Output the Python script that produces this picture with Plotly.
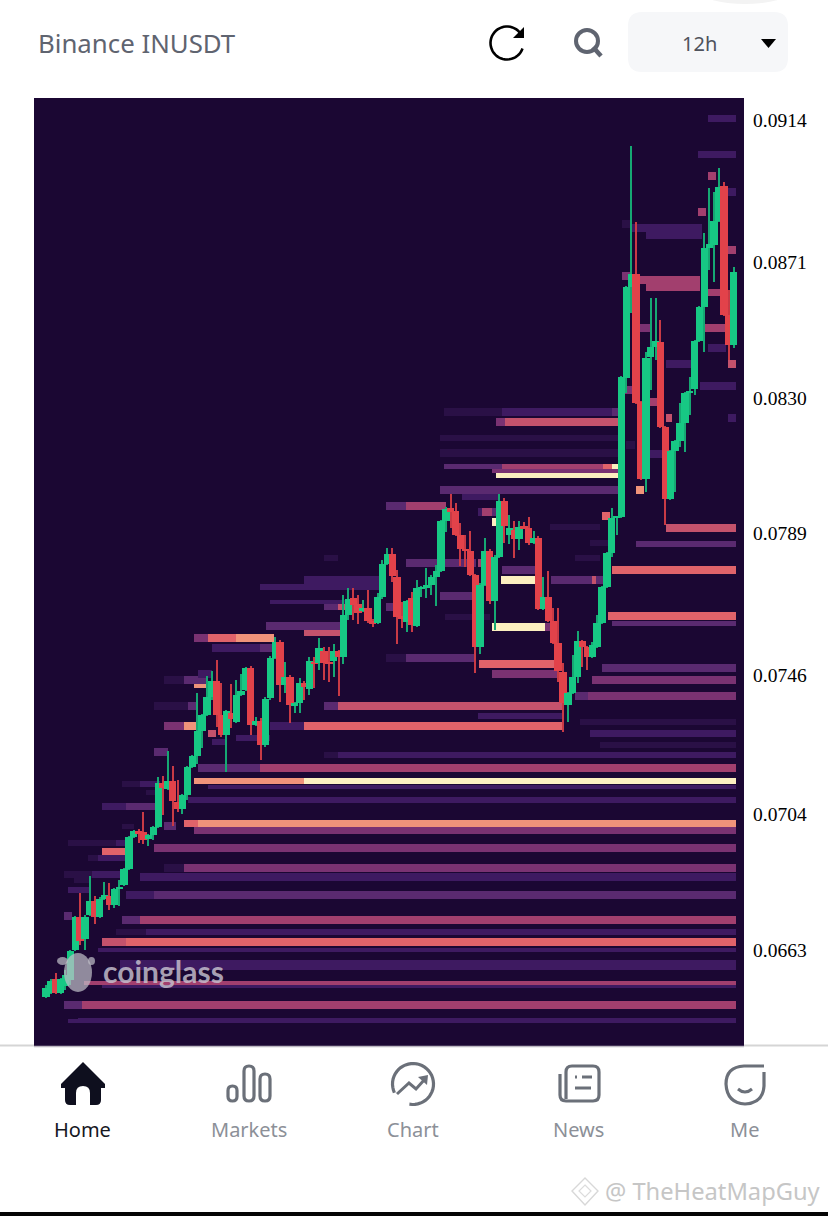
import plotly.graph_objects as go
import numpy as np

TITLE = "Binance INUSDT"
TICK_LABELS = ["0.0914", "0.0871", "0.0830", "0.0789", "0.0746", "0.0704", "0.0663"]
TICK_VALUES = [0.0914, 0.0871, 0.0830, 0.0789, 0.0746, 0.0704, 0.0663]
NAV_LABELS = ["Home", "Markets", "Chart", "News", "Me"]

# candle prices, in units of 0.00001
opens = [6488,6500,6542,6500,6521,6539,6630,6730,6663,6736,
         6778,6730,6784,6793,6766,6815,6827,6875,6972,6990,
         6987,6966,6978,7002,7135,7117,7141,7078,7057,7099,
         7184,7217,7293,7341,7395,7444,7341,7280,7347,7320,
         7401,7416,7483,7311,7323,7250,7392,7513,7562,7432,
         7456,7371,7377,7438,7420,7501,7498,7534,7501,7504,
         7534,7516,7643,7695,7676,7655,7664,7625,7619,7698,
         7797,7828,7758,7640,7622,7695,7610,7725,7728,7734,
         7758,7776,7928,7967,7958,7885,7843,7837,7764,7546,
         7734,7837,7686,7819,7988,7885,7900,7873,7912,7906,
         7861,7876,7661,7698,7625,7559,7471,7371,7407,7456,
         7565,7546,7516,7546,7619,7728,7831,7937,7940,8360,
         8635,8674,8287,8054,8423,8454,8469,8212,7994,8139,
         8169,8224,8315,8327,8472,8575,8753,8762,8835,8940,
         8550,8460]
highs = [6524,6542,6561,6545,6570,6630,6733,6803,6736,6854,
         6793,6790,6836,6833,6818,6842,6878,6975,6993,6996,
         7048,6981,7005,7153,7156,7232,7187,7144,7102,7187,
         7220,7407,7344,7459,7474,7507,7438,7356,7435,7447,
         7465,7486,7489,7335,7332,7395,7519,7577,7568,7501,
         7462,7380,7453,7444,7516,7516,7574,7546,7546,7555,
         7537,7704,7725,7725,7704,7689,7719,7631,7710,7810,
         7846,7846,7779,7683,7689,7713,7749,7731,7785,7764,
         7794,7931,7970,8009,7982,7921,7885,7897,7767,7740,
         7876,7843,7825,8009,7997,7946,7928,7928,7925,7940,
         7897,7882,7758,7776,7664,7664,7498,7410,7522,7595,
         7568,7549,7562,7643,7731,7834,7967,7943,8366,8638,
         9061,8832,8290,8439,8602,8602,8535,8215,8142,8172,
         8284,8318,8363,8475,8578,8798,8934,8922,8995,8953,
         8626,8696]
lows = [6485,6497,6497,6497,6509,6524,6627,6645,6630,6733,
        6709,6727,6781,6751,6757,6763,6824,6872,6969,6954,
        6951,6945,6963,6999,7038,7114,7005,7048,7041,7084,
        7181,7193,7241,7338,7386,7305,7274,7168,7302,7317,
        7398,7413,7280,7308,7205,7244,7386,7510,7380,7407,
        7317,7347,7347,7386,7401,7423,7477,7447,7441,7456,
        7398,7495,7628,7628,7616,7652,7619,7607,7616,7692,
        7794,7743,7555,7604,7592,7592,7607,7698,7695,7704,
        7670,7773,7894,7906,7882,7791,7788,7761,7468,7525,
        7731,7676,7598,7816,7861,7858,7816,7840,7903,7855,
        7858,7658,7658,7622,7555,7441,7289,7320,7404,7438,
        7486,7477,7513,7543,7616,7725,7819,7885,7937,8315,
        8556,8281,8051,8015,8324,8414,8209,7915,7991,8015,
        8151,8136,8248,8309,8469,8439,8686,8650,8832,8547,
        8414,8451]
closes = [6515,6536,6500,6542,6555,6627,6730,6657,6730,6778,
          6730,6784,6797,6766,6815,6821,6875,6972,6990,6981,
          6963,6978,7002,7135,7120,7141,7081,7057,7099,7184,
          7217,7293,7341,7395,7444,7341,7280,7353,7329,7401,
          7413,7483,7311,7323,7250,7389,7513,7562,7432,7456,
          7371,7377,7438,7426,7504,7498,7543,7498,7498,7534,
          7516,7643,7692,7673,7649,7664,7625,7619,7698,7797,
          7828,7761,7637,7631,7686,7613,7725,7728,7734,7758,
          7776,7928,7964,7955,7885,7843,7837,7764,7546,7734,
          7837,7686,7819,7988,7912,7906,7873,7909,7906,7861,
          7876,7661,7698,7625,7559,7474,7377,7407,7456,7565,
          7546,7516,7552,7619,7728,7831,7937,7940,8363,8635,
          8674,8284,8054,8420,8454,8472,8212,7994,8139,8169,
          8224,8315,8321,8472,8575,8753,8765,8835,8937,8550,
          8460,8681]

# liquidity bands: price level (0.00001), first and last candle index, depth, intensity 1-9
band_price = [6464,6464,6416,6416,6524,6530,6585,6630,6654,6654,
              6721,6721,6685,6685,6797,6797,6851,6878,6878,6939,
              6993,7014,7014,7014,7084,7123,7141,7141,7181,7181,
              7220,7220,7308,7308,7368,7368,7338,7398,7398,7447,
              7483,7286,7250,7320,7619,7640,7779,7858,7906,7495,
              7465,7607,7607,7749,7749,7749,7749,7779,7701,7637,
              7801,7801,7924,7955,7955,7955,8000,8021,8064,8082,
              8094,8094,8094,8094,8133,8179,8227,8227,8257,8257,
              8257,7943,7909,7861,7816,7973,7973,7816,7816,7801,
              7749,7728,7683,7667,7667,7667,7610,7589,7574,7574,
              7574,7543,7543,7513,7513,7447,7447,7465,7428,7368,
              7368,7308,7308,7286,7259,7271,7229,7132,7132,7108,
              7063,7063,7005,7005,6954,6954,6927,6908,6908,6860,
              6860,6842,6812,6733,9146,9037,8971,8922,8862,8826,
              8814,8792,8747,8668,8656,8635,8620,8511,8511,8451,
              8402,8402,8336,8324,8287,8239,8239,8157,8130,8021]
band_from = [3.7,7.4,4.5,6.6,11.5,7.8,15.2,10.7,11.5,16.4,
             15.6,19.3,14.4,20.5,16.4,22.1,19.3,24.2,28.3,22.1,
             30.3,28.3,31.2,43.9,29.1,33.2,30.3,52.9,31.2,43.9,
             57,59.9,45.9,52.9,57,59.9,88.6,108.4,111.1,111.9,
             114,111.5,113.6,109.5,116,115.2,116,121,127.1,88.8,
             91.4,91.4,102.3,93.3,103.5,111.9,112.8,93.5,80.8,81.8,
             82.2,88.6,91.4,88.6,89.4,91.4,85.3,80.8,92.3,91.4,
             81.6,93.5,114.2,116,80.8,80.8,92.3,94.1,81.6,93.5,
             116,114,103.3,111.5,108.4,69.7,73.8,59.9,57,73.8,
             52.9,43.9,45.9,57,59.9,69.7,45.1,52.9,30.3,33.2,
             39,34,43.9,69.7,73.8,24.2,28.3,31.2,30.3,22.1,
             29.1,24.2,28.3,33.2,34,39,22.1,15.6,19.3,20.5,
             11.5,16.4,24.2,15.6,4.5,14.4,11.5,8.6,10.7,3.7,
             9.4,5.7,4.5,3.7,135.7,133.7,135.7,139.8,133.7,118.1,
             120.1,123,139.8,118.1,121.8,123,135.7,121.8,134.5,135.7,
             139.8,127.1,134.1,118.7,123.8,139.8,127.1,118.9,121.8,121]
band_to = [7.4,141.5,6.6,141.5,141.5,141.5,141.5,141.5,16.4,141.5,
           19.3,141.5,20.5,141.5,22.1,141.5,141.5,28.3,141.5,141.5,
           141.5,31.2,43.9,141.5,141.5,141.5,52.9,141.5,43.9,141.5,
           59.9,141.5,52.9,105.8,59.9,105.8,105.8,141.5,141.5,141.5,
           141.5,141.5,141.5,141.5,141.5,141.5,141.5,141.5,141.5,104.6,
           105,102.3,103.7,100.9,111.9,112.8,114.4,100.9,87.7,91,
           87.7,89.8,92.7,89.4,91.4,92.5,93.1,117.3,117.3,117.3,
           93.5,114.2,116,117.3,117.3,117.3,94.1,117.3,93.5,116,
           117.3,115.6,113.6,115.6,113.6,73.8,82,59.9,59.9,88.2,
           68.9,68.5,61.3,59.9,61.5,72.6,61.3,61.3,33.2,39,
           46.7,46.7,46.7,73.8,88.2,28.3,32.8,34,32.8,29.1,
           30.8,28.3,30.8,34.9,36.9,45.9,25,19.3,23.4,22.6,
           16.4,22.6,26.7,18,14.4,16.8,16.8,10.7,16.8,9.4,
           16,9,9,5.3,141.5,141.5,137.4,141.5,135.3,119.7,
           134.5,134.5,141.5,119.7,134.1,134.1,138.2,123.8,139.8,139.4,
           141.5,132.4,141.5,120.7,125.9,141.5,128.3,120.7,127.5,122.6]
band_size = [24,24,12,15,18,12,30,12,24,24,
             24,24,18,18,24,24,24,24,24,24,
             24,21,21,21,21,12,18,18,24,24,
             21,21,24,24,24,24,18,24,24,24,
             24,21,18,18,15,24,24,18,24,24,
             24,24,24,24,24,24,24,24,24,18,
             24,24,24,24,24,24,18,24,15,18,
             15,15,15,15,24,18,24,24,24,24,
             24,24,18,18,18,24,24,18,18,24,
             24,18,12,18,18,24,24,18,24,24,
             24,24,24,24,24,24,24,24,12,24,
             24,24,24,21,18,18,24,18,18,15,
             21,21,24,15,18,18,24,18,18,21,
             21,18,18,24,21,21,24,24,24,24,
             24,21,24,24,24,21,21,24,24,24,
             24,24,24,24,24,24,24,24,24,24]
band_level = [3,5,2,2,2,5,2,2,6,7,
              3,5,1,2,2,3,2,1,4,4,
              4,7,8,8,2,2,8,9,3,5,
              1,2,2,7,3,6,2,3,4,4,
              3,2,1,1,3,7,7,3,6,7,
              4,9,4,9,3,6,3,3,3,1,
              3,5,9,2,5,3,2,3,9,4,
              3,5,7,9,1,1,4,6,1,2,
              3,7,1,1,1,3,5,2,1,3,
              2,2,2,3,6,3,3,6,4,7,
              8,2,3,1,3,1,3,2,8,1,
              3,4,8,6,2,2,3,1,2,1,
              2,3,3,1,1,2,7,1,2,1,
              2,1,2,3,2,2,5,2,5,1,
              2,2,5,4,5,5,5,4,5,2,
              6,2,2,4,5,2,6,1,2,8]

idx = np.arange(len(closes))
o, h, l, c = [np.array(a) / 1e5 for a in (opens, highs, lows, closes)]
up = c >= o
BODY_UP, BODY_DOWN = "#17C884", "#E2424A"
WICK_UP, WICK_DOWN = "#16A873", "#C93A45"

bp = np.array(band_price) / 1e5
bf = np.array(band_from)
bt = np.array(band_to)
bs = np.array(band_size) / 1e5

BG = "#1B0733"
scale = ["#2A1046", "#3E1A61", "#5A2A70", "#7A3272", "#A23F6E",
         "#C4526C", "#E0636A", "#F0937A", "#FCEFC0"]

fig = go.Figure()
fig.add_trace(go.Bar(orientation="h", y=bp, base=bf, x=bt - bf, width=bs,
                     marker=dict(color=band_level, cmin=1, cmax=9, line_width=0,
                                 colorscale=[[k / 8, v] for k, v in enumerate(scale)]),
                     hoverinfo="skip", showlegend=False, xaxis="x", yaxis="y"))
fig.add_trace(go.Bar(x=idx, base=l, y=h - l, width=0.24,
                     marker=dict(color=[WICK_UP if u else WICK_DOWN for u in up], line_width=0),
                     hoverinfo="skip", showlegend=False))
fig.add_trace(go.Bar(x=idx, base=np.minimum(o, c), y=np.abs(c - o), width=1.5,
                     marker=dict(color=[BODY_UP if u else BODY_DOWN for u in up], line_width=0),
                     hoverinfo="skip", showlegend=False))
# page overlay axes, used only for the app chrome around the chart
fig.add_trace(go.Scatter(x=[0, 828], y=[0, 1216], mode="markers", marker_opacity=0,
                         hoverinfo="skip", showlegend=False, xaxis="x2", yaxis="y2"))

GREY = "#6B7079"
shapes = []
def S(**k):
    k.setdefault("xref", "x2"); k.setdefault("yref", "y2")
    shapes.append(k)
def P(path, color=None, fill=None, w=3):
    S(type="path", path=path, line=dict(color=color or "rgba(0,0,0,0)", width=w),
      fillcolor=fill or "rgba(0,0,0,0)")
def arc(cx, cy, r, a0, a1, n=40):
    pts = [(cx + r * np.cos(np.radians(a)), cy + r * np.sin(np.radians(a))) for a in np.linspace(a0, a1, n)]
    return "M " + " L ".join(f"{x:.1f} {y:.1f}" for x, y in pts)

# chart background, beneath the bands and candles
S(type="rect", xref="x domain", yref="y domain", x0=0, x1=1, y0=0, y1=1,
  fillcolor=BG, line_width=0, layer="below")

# watermark sheep
SHEEP = "rgba(190,190,198,0.72)"
S(type="circle", x0=64, x1=92, y0=953, y1=992, fillcolor=SHEEP, line_width=0)
S(type="circle", x0=57, x1=68, y0=957, y1=965, fillcolor=SHEEP, line_width=0)
S(type="circle", x0=88, x1=95, y0=957, y1=965, fillcolor=SHEEP, line_width=0)

# white sheet bottom
S(type="rect", x0=0, x1=828, y0=1046, y1=1216, fillcolor="white", line_width=0)
S(type="line", x0=0, x1=34, y0=1045.5, y1=1045.5, line=dict(color="#D5D5D5", width=2))
S(type="line", x0=34, x1=744, y0=1046.5, y1=1046.5, line=dict(color="#BDB8C2", width=1.5))
S(type="line", x0=744, x1=828, y0=1045.5, y1=1045.5, line=dict(color="#D5D5D5", width=2))
S(type="rect", x0=0, x1=828, y0=1212, y1=1216, fillcolor="#050505", line_width=0)

# header
S(type="circle", x0=700, x1=790, y0=-22, y1=4, fillcolor="#F3F3F3", line_width=0)
P("M 642 12 L 774 12 Q 788 12 788 26 L 788 58 Q 788 72 774 72 L 642 72 Q 628 72 628 58 L 628 26 Q 628 12 642 12 Z",
  fill="#F6F7F9", w=0)
P("M 761 39 L 776 39 L 768.5 48 Z", fill="#000000", w=0)
P(arc(507, 43, 16.5, 20, 320), color="#000000", w=2.6)
P("M 524 27 L 524 38 L 513 38 Z", fill="#000000", w=0)
S(type="circle", x0=576, x1=598, y0=30, y1=52, line=dict(color="#5F6470", width=4), fillcolor="rgba(0,0,0,0)")
S(type="line", x0=593, x1=601, y0=47, y1=56, line=dict(color="#5F6470", width=4.5))

# home icon
P("M 83 1062 L 105 1084 L 105 1088 L 101 1088 L 101 1100 Q 101 1105 96 1105 L 90 1105 L 90 1093 Q 90 1086 83 1086 Q 76 1086 76 1093 L 76 1105 L 70 1105 Q 65 1105 65 1100 L 65 1088 L 61 1088 L 61 1084 Z",
  fill="#0E0F1E", w=0)
# markets icon
for x0, x1, y0 in ((228, 237, 1086), (244, 254, 1066), (260, 270, 1074)):
    r = (x1 - x0) / 2
    m = (x0 + x1) / 2
    P(f"M {x0} {y0+r} Q {x0} {y0} {m} {y0} Q {x1} {y0} {x1} {y0+r} L {x1} {1101-r} "
      f"Q {x1} 1101 {m} 1101 Q {x0} 1101 {x0} {1101-r} Z", color=GREY, w=3.2)
# chart icon
P(arc(413, 1084, 20.5, 155, 460), color=GREY, w=3.2)
P("M 397 1094 L 409 1083 L 416 1089 L 425 1079", color=GREY, w=3)
P("M 418 1077 L 428 1075 L 427 1085 Z", fill=GREY, w=0)
# news icon
P("M 566 1072 Q 566 1066 572 1066 L 593 1066 Q 599 1066 599 1072 L 599 1095 Q 599 1101 593 1101 L 566 1101 Q 560 1101 560 1095 L 560 1074",
  color=GREY, w=3.2)
P("M 566 1072 L 566 1099", color=GREY, w=3.2)
for x0, x1, yy in ((575, 577, 1077), (582, 592, 1077), (575, 591, 1088)):
    S(type="line", x0=x0, x1=x1, y0=yy, y1=yy, line=dict(color=GREY, width=3))
# me icon
P("M 764 1066 L 744 1066 Q 726 1067 726 1084 Q 727 1103 745 1104 Q 763 1103 764 1086 L 764 1072", color=GREY, w=3.2)
P("M 738 1089 Q 745 1095 752 1089", color=GREY, w=3)
# diamond watermark
P("M 585 1178 L 598 1191 L 585 1205 L 572 1191 Z", color="#D8D8D8", w=1.4)
P("M 585 1185 L 591 1191 L 585 1197 L 579 1191 Z", color="#DCDCDC", w=1.2)

annotations = []
def T(x, y, text, size, color, family="Noto Sans", anchor="center", **k):
    annotations.append(dict(x=x, y=y, xref="x2", yref="y2", text=text, showarrow=False,
                            xanchor=anchor, yanchor="middle",
                            font=dict(size=size, color=color, family=family), **k))
T(36, 43, TITLE, 25.8, "#5F6470", anchor="left")
T(699, 43, "12h", 20, "#4E525C")
T(101, 971, "<b>coinglass</b>", 30, "rgba(200,195,208,0.82)", family="Lato", anchor="left")
for x, label, col in zip((82, 248.5, 413, 578, 744.5), NAV_LABELS,
                         ("#17181F", "#8C9098", "#8C9098", "#8C9098", "#8C9098")):
    T(x, 1129, label, 20, col)
T(603, 1191, "@ TheHeatMapGuy", 23.7, "#C6C6C6", anchor="left")

fig.update_layout(
    width=828, height=1216, margin=dict(l=0, r=0, t=0, b=0),
    paper_bgcolor="white", plot_bgcolor="rgba(0,0,0,0)", barmode="overlay", bargap=0,
    showlegend=False, shapes=shapes, annotations=annotations,
    xaxis=dict(domain=[34 / 828, 744 / 828], range=[-2.46, 143.12], visible=False, fixedrange=True),
    yaxis=dict(domain=[170 / 1216, 1118 / 1216], range=[0.0634, 0.09207], side="right",
               showgrid=False, zeroline=False, ticks="", showline=False,
               tickvals=TICK_VALUES, ticktext=TICK_LABELS, ticklabelstandoff=8,
               tickfont=dict(family="Liberation Serif", size=19.5, color="#000000"), fixedrange=True),
    xaxis2=dict(domain=[0, 1], range=[0, 828], visible=False, anchor="y2", fixedrange=True),
    yaxis2=dict(domain=[0, 1], range=[1216, 0], visible=False, anchor="x2", fixedrange=True),
)
fig.write_html("out.html", config=dict(displayModeBar=False),
               post_script="document.body.style.margin='0';")
